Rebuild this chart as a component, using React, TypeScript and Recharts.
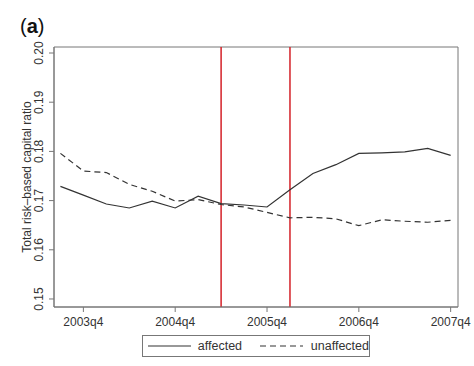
import React from 'react';
import { LineChart, Line, XAxis, YAxis, ReferenceLine, ReferenceArea } from 'recharts';

const quarters: string[] = [
  '2003q3', '2003q4', '2004q1', '2004q2', '2004q3', '2004q4', '2005q1', '2005q2', '2005q3',
  '2005q4', '2006q1', '2006q2', '2006q3', '2006q4', '2007q1', '2007q2', '2007q3', '2007q4',
];

const affected: number[] = [
  0.1729, 0.1711, 0.1693, 0.1685, 0.1699, 0.1685, 0.1709, 0.1694, 0.1691,
  0.1687, 0.1722, 0.1755, 0.1773, 0.1796, 0.1797, 0.1799, 0.1806, 0.1792,
];

const unaffected: number[] = [
  0.1796, 0.1760, 0.1757, 0.1733, 0.1719, 0.1699, 0.1702, 0.1692, 0.1687,
  0.1676, 0.1665, 0.1666, 0.1663, 0.1649, 0.1661, 0.1658, 0.1656, 0.1660,
];

const yTicks: number[] = [0.15, 0.16, 0.17, 0.18, 0.19, 0.2];
const xTickQuarters: string[] = ['2003q4', '2004q4', '2005q4', '2006q4', '2007q4'];
const eventQuarters: string[] = ['2005q2', '2006q1'];

const data = quarters.map((q, i) => ({ idx: i, q, affected: affected[i], unaffected: unaffected[i] }));

const FONT = '"Liberation Sans", Arial, Helvetica, sans-serif';
const X_DOMAIN: [number, number] = [-0.28, 17.32];
const Y_DOMAIN: [number, number] = [0.14837, 0.20122];

const YTick = (props: any) => {
  const { x, y, payload } = props;
  return (
    <text
      x={x - 4}
      y={y}
      transform={`rotate(-90, ${x - 4}, ${y})`}
      textAnchor="middle"
      fontSize={12}
      fill="#333"
      fontFamily={FONT}
    >
      {payload.value.toFixed(2)}
    </text>
  );
};

const XTick = (props: any) => {
  const { x, y, payload } = props;
  return (
    <text x={x} y={y + 12} textAnchor="middle" fontSize={12} fill="#333" fontFamily={FONT}>
      {quarters[payload.value]}
    </text>
  );
};

const App: React.FC = () => {
  return (
    <div style={{ position: 'absolute', left: 0, top: 0, width: 474, height: 366, background: '#fff', fontFamily: FONT }}>
      <LineChart width={474} height={366} data={data} margin={{ top: 47, right: 16, bottom: 29, left: 24 }}>
        <XAxis
          dataKey="idx"
          type="number"
          domain={X_DOMAIN}
          allowDataOverflow
          ticks={xTickQuarters.map((q) => quarters.indexOf(q))}
          tick={<XTick />}
          tickSize={5}
          height={30}
          stroke="#777"
        />
        <YAxis
          type="number"
          domain={Y_DOMAIN}
          allowDataOverflow
          ticks={yTicks}
          tick={<YTick />}
          tickSize={5}
          width={30}
          stroke="#777"
          label={{
            value: 'Total risk\u2013based capital ratio',
            angle: -90,
            position: 'insideLeft',
            offset: 0,
            dx: 3,
            style: { textAnchor: 'middle', fontSize: 12, fill: '#333', fontFamily: FONT },
          }}
        />
        <ReferenceArea
          x1={X_DOMAIN[0]}
          x2={X_DOMAIN[1]}
          y1={Y_DOMAIN[0]}
          y2={Y_DOMAIN[1]}
          fill="none"
          stroke="#777"
          strokeWidth={1}
          ifOverflow="visible"
        />
        {eventQuarters.map((q) => (
          <ReferenceLine key={q} x={quarters.indexOf(q)} stroke="#d42027" strokeWidth={1.5} />
        ))}
        <Line dataKey="affected" stroke="#333" strokeWidth={1.2} dot={false} isAnimationActive={false} />
        <Line
          dataKey="unaffected"
          stroke="#333"
          strokeWidth={1.2}
          strokeDasharray="6 4"
          dot={false}
          isAnimationActive={false}
        />
      </LineChart>
      <div style={{ position: 'absolute', left: 20, top: 15, fontSize: 20, color: '#111' }}>
        (<b>a</b>)
      </div>
      <div
        style={{
          position: 'absolute',
          left: 142,
          top: 335,
          width: 226,
          height: 20,
          border: '1px solid #777',
          display: 'flex',
          alignItems: 'center',
          fontSize: 12.5,
          color: '#333',
        }}
      >
        <svg width={44} height={4} style={{ marginLeft: 5 }}>
          <line x1={0} y1={2} x2={44} y2={2} stroke="#333" strokeWidth={1.2} />
        </svg>
        <span style={{ marginLeft: 7 }}>affected</span>
        <svg width={44} height={4} style={{ marginLeft: 18 }}>
          <line x1={0} y1={2} x2={44} y2={2} stroke="#333" strokeWidth={1.2} strokeDasharray="6 4" />
        </svg>
        <span style={{ marginLeft: 8 }}>unaffected</span>
      </div>
    </div>
  );
};

export default App;
